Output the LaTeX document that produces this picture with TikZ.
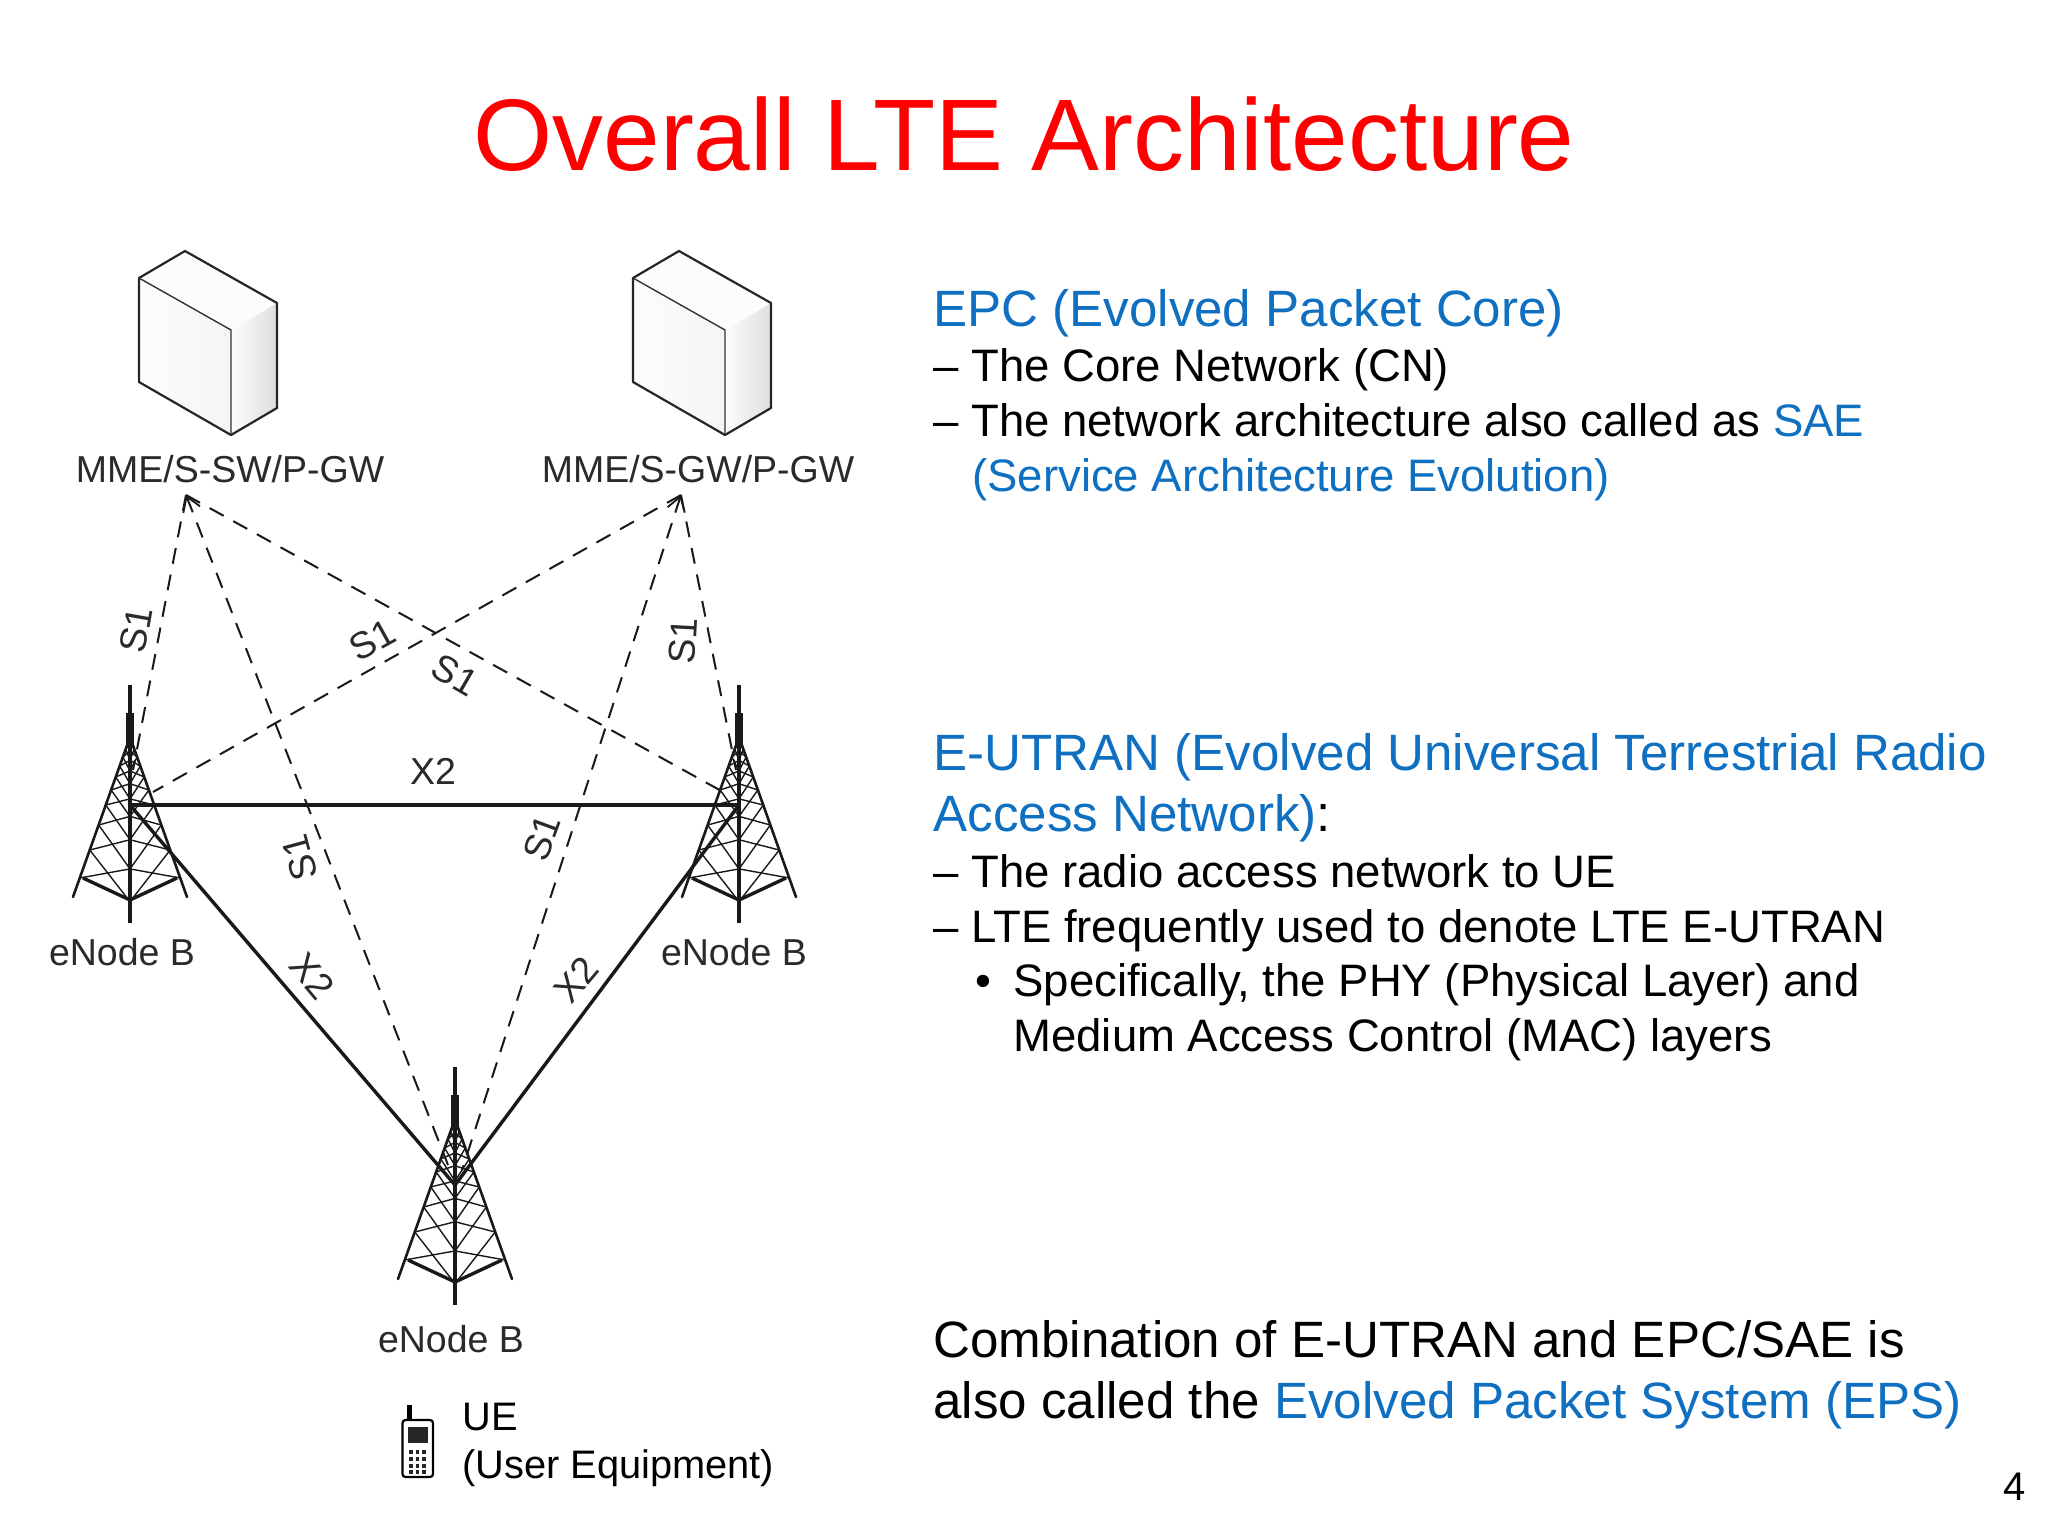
\documentclass[tikz,border=0pt]{standalone}
\usepackage{fontspec}
\setmainfont{Liberation Sans}
\usetikzlibrary{arrows.meta}
\definecolor{lteblue}{HTML}{0F6FC0}
\definecolor{diagtext}{HTML}{2A2A2A}
\newcommand{\fsz}[1]{\fontsize{#1}{#1}\selectfont}
\tikzset{
  title/.style={anchor=base,text=red,font=\fsz{50.9pt},inner sep=0pt},
  headtxt/.style={anchor=base west,text=lteblue,font=\fsz{25.55pt},inner sep=0pt},
  bodytxt/.style={anchor=base west,text=black,font=\fsz{22.75pt},inner sep=0pt},
  bigtxt/.style={anchor=base west,text=black,font=\fsz{25.55pt},inner sep=0pt},
  difflabel/.style={anchor=center,text=diagtext,font=\fsz{18.75pt},inner sep=0pt},
  uetxt/.style={anchor=base west,text=black,font=\fsz{19.9pt},inner sep=0pt},
  dashlink/.style={line width=1pt,dash pattern=on 8pt off 5.5pt,black!90},
  dasharrow/.style={dashlink,{Straight Barb[length=7pt,width=9pt,line width=.9pt]}-},
  x2link/.style={line width=1.7pt,black!90},
  x2thick/.style={line width=2.4pt,black!90},
  edgeline/.style={line width=1.1pt,black!85,line join=round},
  lattice/.style={line width=.7pt,black!90},
  leg/.style={line width=1.3pt,black!90,line cap=round},
  server/.pic={
    \shade[left color=black!1,right color=black!4] (0,27) -- (92,79) -- (92,184) -- (0,131) -- cycle;
    \shade[left color=black!1,right color=black!13] (92,79) -- (138,52) -- (138,157) -- (92,184) -- cycle;
    \fill[black!1] (0,27) -- (46,0) -- (138,52) -- (92,79) -- cycle;
    \draw[edgeline] (46,0) -- (0,27) -- (0,131) -- (92,184) -- (138,157) -- (138,52) -- cycle;
    \draw[line width=.7pt,black!80] (0,27) -- (92,79) -- (92,184);
  },
  tower/.pic={
    \foreach \a/\b in {58/64,64/72,72/81,81/92,92/105,105/120,120/140,140/165,165/193}{
      \pgfmathsetmacro{\da}{0.356*(\a-52)}
      \pgfmathsetmacro{\db}{0.356*(\b-52)}
      \pgfmathsetmacro{\ca}{\a+0.47*\da}
      \pgfmathsetmacro{\cb}{\b+0.47*\db}
      \draw[lattice] (-\da,\a) -- (0,\cb) (\da,\a) -- (0,\cb);
      \draw[lattice] (0,\ca) -- (-\db,\b) (0,\ca) -- (\db,\b);
    }
    \draw[leg] (-57,212) -- (0,52) -- (57,212);
    \draw[line width=1.7pt,black!90,line join=round] (-47,193) -- (0,215) -- (47,193);
    \draw[line width=2pt,black!90] (0,0) -- (0,238);
    \draw[line width=4pt,black!90] (0,28) -- (0,62);
  },
}
\begin{document}
\begin{tikzpicture}[x=.5pt,y=-.5pt]
\useasboundingbox (0,0) rectangle (2048,1536);
\fill[white] (0,0) rectangle (2048,1536);

% title
\node[title] (ttl) at (1024,170) {Overall LTE Architecture};

% servers
\pic at (139,251) {server};
\pic at (633,251) {server};
\node[difflabel,anchor=base] (mmeL) at (230,482) {MME/S-SW/P-GW};
\node[difflabel,anchor=base] (mmeR) at (698,482) {MME/S-GW/P-GW};

% anchors
\coordinate (tipL) at (186,495);
\coordinate (tipR) at (681,495);
\coordinate (t1) at (130,805);
\coordinate (t2) at (739,805);
\coordinate (t3) at (455,1185);
\coordinate (e1a) at (133,770);
\coordinate (e1b) at (153,792);
\coordinate (e2a) at (725,793);
\coordinate (e2b) at (736,770);
\coordinate (e3a) at (448,1165);
\coordinate (e3b) at (462,1170);

% dashed S1 links
\draw[dashlink] (tipL) -- (e1a);
\draw[dashlink] (tipL) -- (e2a);
\draw[dasharrow] (tipL) -- (e3a);
\draw[dashlink] (tipR) -- (e1b);
\draw[dashlink] (tipR) -- (e2b);
\draw[dasharrow] (tipR) -- (e3b);

% X2 links
\draw[x2thick] (t1) -- (t2);
\draw[x2link] (t1) -- (t3);
\draw[x2link] (t2) -- (t3);

% towers
\pic at (130,685) {tower};
\pic at (739,685) {tower};
\pic at (455,1067) {tower};

% labels
\node[difflabel,rotate=80] (s1a) at (136,630) {S1};
\node[difflabel,rotate=29] (s1b) at (372,640) {S1};
\node[difflabel,rotate=-30] (s1c) at (455,675) {S1};
\node[difflabel,rotate=87] (s1d) at (683,641) {S1};
\node[difflabel,rotate=105] (s1e) at (300,858) {S1};
\node[difflabel,rotate=70] (s1f) at (542,838) {S1};
\node[difflabel] (x2a) at (433,771) {X2};
\node[difflabel,rotate=-50] (x2b) at (312,976) {X2};
\node[difflabel,rotate=50] (x2c) at (576,980) {X2};
\node[difflabel,anchor=base] (enb1) at (122,965) {eNode B};
\node[difflabel,anchor=base] (enb2) at (734,965) {eNode B};
\node[difflabel,anchor=base] (enb3) at (451,1352) {eNode B};

% phone
\fill[black] (406.5,1405) rectangle (411.5,1421);
\draw[line width=1.1pt,black,fill=white,rounded corners=1.5pt] (402.5,1420) rectangle (433,1477);
\fill[black!85] (408,1427) rectangle (428,1443);
\foreach \py in {1452,1459,1466,1472}{
  \foreach \px in {411,417.5,424}{
    \fill[black!85] (\px-1.8,\py-1.8) rectangle (\px+1.8,\py+1.8);
  }
}
\node[uetxt] (ue1) at (462,1430) {UE};
\node[uetxt] (ue2) at (462,1478) {(User Equipment)};

% right column
\node[headtxt] (h1) at (933,326) {EPC (Evolved Packet Core)};
\node[bodytxt] (b1) at (933,381) {– The Core Network (CN)};
\node[bodytxt] (b2) at (933,436) {– The network architecture also called as \textcolor{lteblue}{SAE}};
\node[bodytxt,text=lteblue] (b3) at (972,491) {(Service Architecture Evolution)};

\node[headtxt] (h2) at (933,770) {E-UTRAN (Evolved Universal Terrestrial Radio};
\node[headtxt] (h3) at (933,831) {Access Network)\textcolor{black}{:}};
\node[bodytxt] (b4) at (933,887) {– The radio access network to UE};
\node[bodytxt] (b5) at (933,942) {– LTE frequently used to denote LTE E-UTRAN};
\node[bodytxt] (b6) at (975,996) {•};
\node[bodytxt] (b7) at (1013,996) {Specifically, the PHY (Physical Layer) and};
\node[bodytxt] (b8) at (1013,1051) {Medium Access Control (MAC) layers};

\node[bigtxt] (c1) at (933,1357) {Combination of E-UTRAN and EPC/SAE is};
\node[bigtxt] (c2) at (933,1418) {also called the \textcolor{lteblue}{Evolved Packet System (EPS)}};

\node[anchor=base east,font=\fsz{20pt},inner sep=0pt] (pg) at (2026,1500) {4};
\end{tikzpicture}
\end{document}
